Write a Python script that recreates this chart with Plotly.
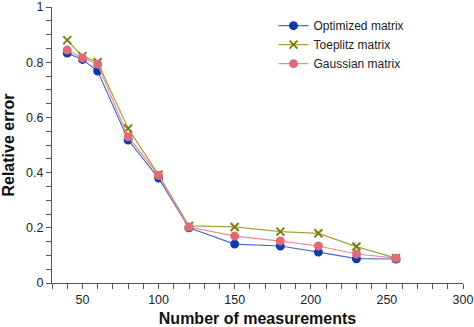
import plotly.graph_objects as go

measurements = [40, 50, 60, 80, 100, 120, 150, 180, 205, 230, 256]
optimized = [0.833, 0.81, 0.768, 0.518, 0.38, 0.200, 0.141, 0.134, 0.112, 0.088, 0.087]
toeplitz = [0.880, 0.822, 0.800, 0.560, 0.392, 0.207, 0.203, 0.186, 0.180, 0.132, 0.090]
gaussian = [0.844, 0.815, 0.793, 0.530, 0.390, 0.203, 0.170, 0.152, 0.134, 0.105, 0.090]

series = [
    ("Optimized matrix", optimized, "#4a6cc4", "#0d3ba8", "circle", 7),
    ("Toeplitz matrix", toeplitz, "#a3a33a", "#7d7d10", "x-thin-open", 8),
    ("Gaussian matrix", gaussian, "#ec8a96", "#e06a7a", "circle", 7),
]

fig = go.Figure()
for name, vals, lc, mc, sym, sz in series:
    fig.add_trace(go.Scatter(
        x=measurements, y=vals, name=name, mode="lines+markers",
        line=dict(color=lc, width=1.2),
        marker=dict(symbol=sym, size=sz, color=mc, line=dict(color=mc, width=2)),
    ))

font = "Liberation Sans, Arial, Helvetica, sans-serif"
fig.update_layout(
    width=474, height=327,
    margin=dict(l=52, r=11, t=7, b=44),
    paper_bgcolor="white", plot_bgcolor="white",
    font=dict(family=font, size=12, color="#222"),
    showlegend=True,
    legend=dict(x=0.539, y=0.985, xanchor="left", yanchor="top",
                font=dict(size=12, color="#222"), tracegroupgap=0,
                bgcolor="rgba(0,0,0,0)", itemwidth=30),
    xaxis=dict(
        range=[30, 300], tick0=0, dtick=50, ticks="outside", ticklen=5,
        tickcolor="#555", showline=True, linecolor="#555", linewidth=1,
        showgrid=False, zeroline=False, automargin=False,
        tickfont=dict(size=12.5),
        minor=dict(dtick=10, ticks="outside", ticklen=5, tickcolor="#555", showgrid=False),
        title=dict(text="<b>Number of measurements</b>", font=dict(size=16, color="#111"), standoff=6),
    ),
    yaxis=dict(
        range=[0, 1], tick0=0, dtick=0.2, ticks="outside", ticklen=5,
        tickcolor="#555", showline=True, linecolor="#555", linewidth=1,
        showgrid=False, zeroline=False, automargin=False,
        tickfont=dict(size=12.5),
        minor=dict(dtick=0.05, ticks="outside", ticklen=5, tickcolor="#555", showgrid=False),
        title=dict(text="<b>Relative error</b>", font=dict(size=16, color="#111"), standoff=8),
    ),
)

fig.write_html("out.html")
